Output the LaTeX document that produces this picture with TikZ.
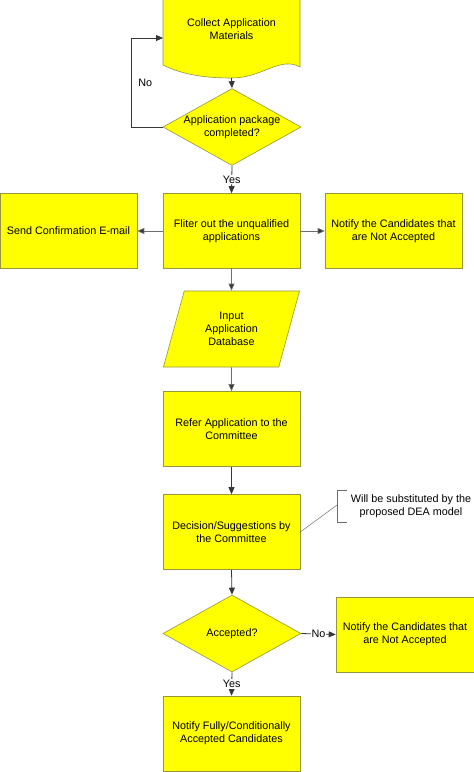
\documentclass[tikz,border=0pt]{standalone}
\usepackage{fontspec}
\setmainfont{Liberation Sans}
\usetikzlibrary{shapes.geometric,arrows.meta}
\definecolor{BoxYellow}{RGB}{255,255,0}
\definecolor{BoxEdge}{RGB}{150,150,60}
\definecolor{LineDark}{RGB}{55,55,55}
\definecolor{LineGray}{RGB}{110,110,110}
\newcommand{\chartfont}{\fontsize{10.8}{13}\selectfont}

\begin{document}
\begin{tikzpicture}[x=1pt,y=-1pt,
  >={Triangle[length=7pt,width=6pt]},
  box/.style={draw=BoxEdge,fill=BoxYellow,line width=0.6pt,
              minimum width=137pt,minimum height=75pt,align=center,font=\chartfont},
  choice/.style={diamond,draw=BoxEdge,fill=BoxYellow,line width=0.6pt,
                 minimum width=138pt,minimum height=77pt,inner sep=0pt},
  io/.style={trapezium,trapezium left angle=72,trapezium right angle=108,
             trapezium stretches=true,draw=BoxEdge,fill=BoxYellow,line width=0.6pt,
             minimum width=137pt,minimum height=76pt,align=center,font=\chartfont},
  txt/.style={align=center,font=\chartfont},
  lbl/.style={font=\chartfont,fill=white,inner sep=1pt},
  flow/.style={->,draw=LineDark,line width=0.8pt},
  side/.style={-{Triangle[length=7pt,width=6pt,fill=LineDark]},draw=LineGray,line width=0.7pt},
  notel/.style={draw=LineGray,line width=0.5pt},
]
\useasboundingbox (0,0) rectangle (474,772);

% document shape at the top
\draw[draw=BoxEdge,fill=BoxYellow,line width=0.6pt] (163,65) -- (163,-5) -- (300,-5) -- (300,67)
  .. controls (280,56) and (262,78) .. (232,78) .. controls (210,78) and (185,76) .. (163,65);
\node[txt,minimum width=137pt,minimum height=98pt] (doc) at (231.5,29) {Collect Application\\Materials};
\node[choice,label={[txt]center:{Application package\\completed?}}] (chk) at (232,127) {};
\coordinate (back) at (163,38);

\node[box] (conf) at (68.5,231) {Send Confirmation E-mail};
\node[box] (filt) at (231.5,231) {Fliter out the unqualified\\applications};
\node[box] (rej1) at (393.5,231) {Notify the Candidates that\\are Not Accepted};
\node[io] (inp) at (231.5,329) {Input\\Application\\Database};
\node[box] (ref) at (231.5,429) {Refer Application to the\\Committee};
\node[box] (dec) at (231.5,532) {Decision/Suggestions by\\the Committee};
\node[choice,label={[txt]center:Accepted?}] (acc) at (232,633.5) {};
\node[box,minimum width=138pt] (rej2) at (405,634.5) {Notify the Candidates that\\are Not Accepted};
\node[box] (full) at (231.5,733.5) {Notify Fully/Conditionally\\Accepted Candidates};

% note on the committee step
\node[txt] (dea) at (411,506) {Will be substituted by the\\proposed DEA model};
\coordinate (brk) at (337,505);
\draw[notel] (347,490) -- (337,490) -- (337,522) -- (347,522);
\draw[notel] (dec.east) -- (brk);

\draw[flow] (doc.south) -- (chk.north);
\draw[flow] (chk.west) -- ++(-31,0) |- node[pos=0.25,right,xshift=3pt,font=\chartfont] {No} (back);
\draw[flow] (chk.south) -- node[lbl] {Yes} (filt.north);
\draw[side] (filt.west) -- (conf.east);
\draw[side] (filt.east) -- (rej1.west);
\draw[side] (filt.south) -- (inp.north);
\draw[side] (inp.south) -- (ref.north);
\draw[flow] (ref.south) -- (dec.north);
\draw[flow] (dec.south) -- (acc.north);
\draw[flow] (acc.east) -- node[lbl] {No} (rej2.west);
\draw[flow] (acc.south) -- node[lbl] {Yes} (full.north);
\end{tikzpicture}
\end{document}
